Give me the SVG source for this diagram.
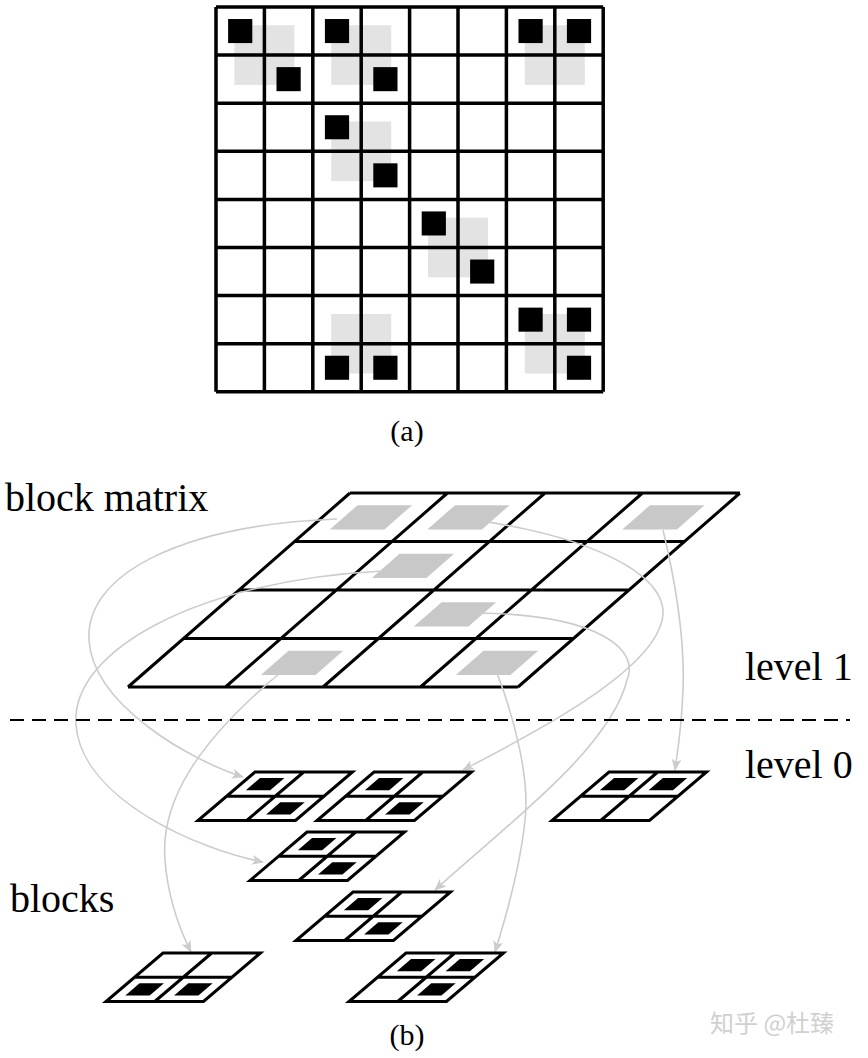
<svg xmlns="http://www.w3.org/2000/svg" width="868" height="1058" viewBox="0 0 868 1058">
<defs>
<style>
.ln{fill:none;stroke:#000;vector-effect:non-scaling-stroke}
.g1{fill:#e3e3e3}
.g2{fill:#c8c8c8}
.bk{fill:#000}
.cv{fill:none;stroke:#cccccc;stroke-width:1.6;marker-end:url(#ah)}
.t{font-family:"Liberation Serif","Times New Roman",serif;fill:#000}
</style>
<marker id="ah" viewBox="0 0 12 10" refX="11" refY="5" markerWidth="12" markerHeight="10" markerUnits="userSpaceOnUse" orient="auto">
<path d="M0,0 L12,5 L0,10 L3,5 Z" fill="#cccccc"/>
</marker>
<path id="blk2" class="ln" style="stroke-width:3" d="M0,0H1L0,1H0ZM0,0H1V1H0Z"/>
</defs>
<rect width="868" height="1058" fill="#fff"/>
<g id="grid-a" transform="translate(216 7) scale(48.4 48.1)">
<g class="g1">
<rect x="0.38" y="0.38" width="1.24" height="1.24"/>
<rect x="2.38" y="0.38" width="1.24" height="1.24"/>
<rect x="6.38" y="0.38" width="1.24" height="1.24"/>
<rect x="2.38" y="2.38" width="1.24" height="1.24"/>
<rect x="4.38" y="4.38" width="1.24" height="1.24"/>
<rect x="2.38" y="6.38" width="1.24" height="1.24"/>
<rect x="6.38" y="6.38" width="1.24" height="1.24"/>
</g>
<g class="bk">
<rect x="0.25" y="0.25" width="0.5" height="0.5"/>
<rect x="2.25" y="0.25" width="0.5" height="0.5"/>
<rect x="6.25" y="0.25" width="0.5" height="0.5"/>
<rect x="7.25" y="0.25" width="0.5" height="0.5"/>
<rect x="1.25" y="1.25" width="0.5" height="0.5"/>
<rect x="3.25" y="1.25" width="0.5" height="0.5"/>
<rect x="2.25" y="2.25" width="0.5" height="0.5"/>
<rect x="3.25" y="3.25" width="0.5" height="0.5"/>
<rect x="4.25" y="4.25" width="0.5" height="0.5"/>
<rect x="5.25" y="5.25" width="0.5" height="0.5"/>
<rect x="6.25" y="6.25" width="0.5" height="0.5"/>
<rect x="7.25" y="6.25" width="0.5" height="0.5"/>
<rect x="2.25" y="7.25" width="0.5" height="0.5"/>
<rect x="3.25" y="7.25" width="0.5" height="0.5"/>
<rect x="7.25" y="7.25" width="0.5" height="0.5"/>
</g>
<path class="ln" style="stroke-width:3.5" d="M0,0V8M1,0V8M2,0V8M3,0V8M4,0V8M5,0V8M6,0V8M7,0V8M8,0V8M0,0H8M0,1H8M0,2H8M0,3H8M0,4H8M0,5H8M0,6H8M0,7H8M0,8H8"/>
</g>
<text class="t" x="407" y="441" font-size="30" text-anchor="middle">(a)</text>

<g id="matrix" transform="matrix(97.5 0 -55.5 48.5 350 493)">
<g class="g2">
<path d="M0.22,0.25H0.78L0.78,0.75H0.22Z"/>
<path d="M1.22,0.25H1.78L1.78,0.75H1.22Z"/>
<path d="M3.22,0.25H3.78L3.78,0.75H3.22Z"/>
<path d="M1.22,1.25H1.78L1.78,1.75H1.22Z"/>
<path d="M2.22,2.25H2.78L2.78,2.75H2.22Z"/>
<path d="M1.22,3.25H1.78L1.78,3.75H1.22Z"/>
<path d="M3.22,3.25H3.78L3.78,3.75H3.22Z"/>
</g>
<path class="ln" style="stroke-width:3" d="M0,0V4M1,0V4M2,0V4M3,0V4M4,0V4M0,0H4M0,1H4M0,2H4M0,3H4M0,4H4"/>
</g>

<g id="connectors">
<path class="cv" d="M337,519 C180,525 85,575 89,640 C93,705 190,760 243,777"/>
<path class="cv" d="M383,571 C200,580 70,650 76,725 C82,800 200,850 263,862"/>
<path class="cv" d="M280,673 C200,740 160,800 165,860 C168,900 180,930 191,952"/>
<path class="cv" d="M488,522 C600,540 680,580 660,627 C640,680 520,740 463,770"/>
<path class="cv" d="M480,613 C600,615 640,650 627,680 C610,750 500,830 435,890"/>
<path class="cv" d="M497,673 C515,720 530,780 525,820 C520,870 505,920 495,952"/>
<path class="cv" d="M663,530 C675,580 685,640 683,690 C682,720 678,750 675,770"/>
</g>

<path d="M10,720H850" stroke="#000" stroke-width="1.8" stroke-dasharray="14 8" fill="none"/>

<g id="block-A" transform="matrix(97.5 0 -57 48.5 255 772)">
<g class="bk"><path d="M0.125,0.125H0.375L0.375,0.375H0.125Z"/><path d="M0.625,0.625H0.875L0.875,0.875H0.625Z"/></g>
<path class="ln" style="stroke-width:3" d="M0,0H1V1H0ZM0.5,0V1M0,0.5H1"/>
</g>
<g id="block-B" transform="matrix(97.5 0 -57 48.5 374 772)">
<g class="bk"><path d="M0.125,0.125H0.375L0.375,0.375H0.125Z"/><path d="M0.625,0.625H0.875L0.875,0.875H0.625Z"/></g>
<path class="ln" style="stroke-width:3" d="M0,0H1V1H0ZM0.5,0V1M0,0.5H1"/>
</g>
<g id="block-C" transform="matrix(97.5 0 -57 48.5 609 772)">
<g class="bk"><path d="M0.125,0.125H0.375L0.375,0.375H0.125Z"/><path d="M0.625,0.125H0.875L0.875,0.375H0.625Z"/></g>
<path class="ln" style="stroke-width:3" d="M0,0H1V1H0ZM0.5,0V1M0,0.5H1"/>
</g>
<g id="block-D" transform="matrix(97.5 0 -57 48.5 307 832)">
<g class="bk"><path d="M0.125,0.125H0.375L0.375,0.375H0.125Z"/><path d="M0.625,0.625H0.875L0.875,0.875H0.625Z"/></g>
<path class="ln" style="stroke-width:3" d="M0,0H1V1H0ZM0.5,0V1M0,0.5H1"/>
</g>
<g id="block-E" transform="matrix(97.5 0 -57 48.5 353 892)">
<g class="bk"><path d="M0.125,0.125H0.375L0.375,0.375H0.125Z"/><path d="M0.625,0.625H0.875L0.875,0.875H0.625Z"/></g>
<path class="ln" style="stroke-width:3" d="M0,0H1V1H0ZM0.5,0V1M0,0.5H1"/>
</g>
<g id="block-F" transform="matrix(97.5 0 -57 48.5 163 953)">
<g class="bk"><path d="M0.125,0.625H0.375L0.375,0.875H0.125Z"/><path d="M0.625,0.625H0.875L0.875,0.875H0.625Z"/></g>
<path class="ln" style="stroke-width:3" d="M0,0H1V1H0ZM0.5,0V1M0,0.5H1"/>
</g>
<g id="block-G" transform="matrix(97.5 0 -57 48.5 406 953)">
<g class="bk"><path d="M0.125,0.125H0.375L0.375,0.375H0.125Z"/><path d="M0.625,0.125H0.875L0.875,0.375H0.625Z"/><path d="M0.625,0.625H0.875L0.875,0.875H0.625Z"/></g>
<path class="ln" style="stroke-width:3" d="M0,0H1V1H0ZM0.5,0V1M0,0.5H1"/>
</g>

<text class="t" x="5" y="511" font-size="40">block matrix</text>
<text class="t" x="745" y="680" font-size="40">level 1</text>
<text class="t" x="745" y="778" font-size="40">level 0</text>
<text class="t" x="10" y="912" font-size="40">blocks</text>
<text class="t" x="407" y="1045" font-size="30" text-anchor="middle">(b)</text>
<text x="710" y="1032" font-size="24" fill="#d0d0d0" font-family="'Noto Sans CJK SC',sans-serif">知乎 @杜臻</text>
</svg>
